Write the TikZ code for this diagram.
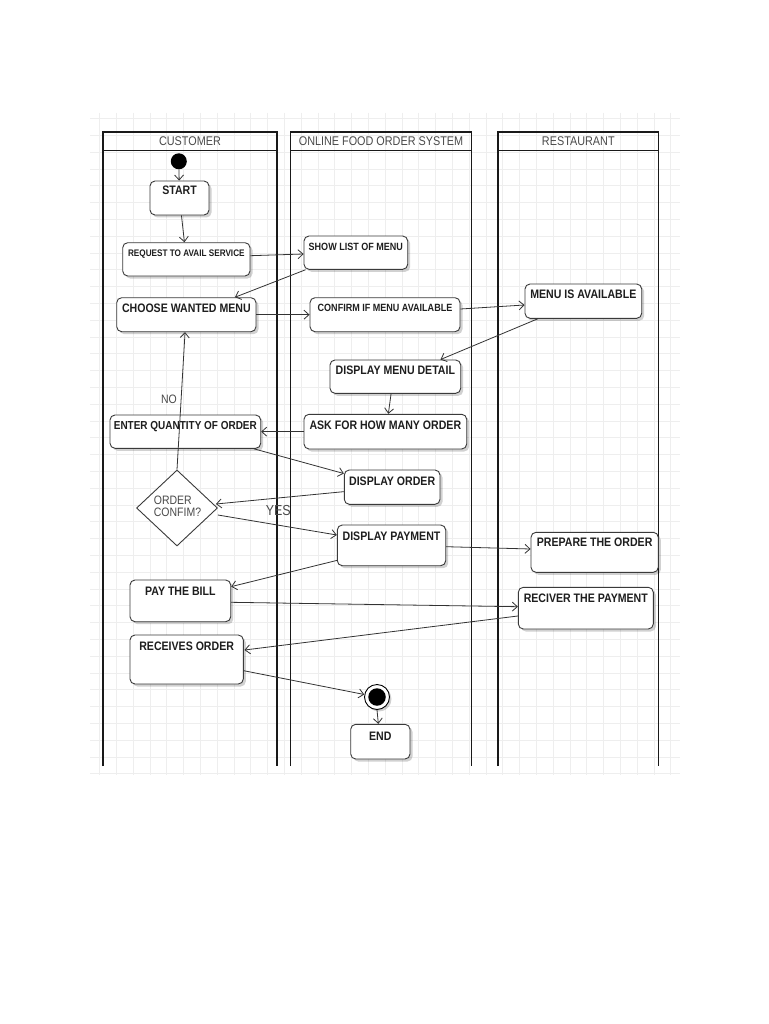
\documentclass[tikz,border=0pt]{standalone}
\usepackage{fontspec}
\setmainfont{Liberation Sans}
\newfontfamily\nfont[FakeStretch=0.86]{Liberation Sans}
\usetikzlibrary{arrows.meta,shapes.geometric,shadows,fit,calc}
\definecolor{boxline}{HTML}{3A3A3A}
\definecolor{txt}{HTML}{1E1E1E}
\definecolor{hdr}{HTML}{4A4A4A}
\definecolor{gridc}{HTML}{EEEEEE}
\tikzset{
 actbox/.style={draw=boxline, line width=0.9pt, rounded corners=5pt, fill=white, inner sep=0pt,
   drop shadow={shadow xshift=2.5pt, shadow yshift=-2.5pt, opacity=0.18, fill=black}},
 acttext/.style={font=\nfont\fontsize{12.3}{14}\selectfont\bfseries, text=txt, inner sep=0pt},
 midtext/.style={font=\nfont\fontsize{11.6}{13}\selectfont\bfseries, text=txt, inner sep=0pt},
 smalltext/.style={font=\nfont\fontsize{10.5}{12}\selectfont\bfseries, text=txt, inner sep=0pt},
 tinytext/.style={font=\nfont\fontsize{9.5}{11}\selectfont\bfseries, text=txt, inner sep=0pt},
 flow/.style={draw=black!80, line width=0.8pt, -{Straight Barb[length=5pt,width=9pt]}},
 lanehead/.style={font=\nfont\fontsize{12.6}{14}\selectfont, text=hdr, inner sep=0pt},
 laneline/.style={line width=1.8pt, draw=black!90, line join=miter},
 guard/.style={font=\nfont\fontsize{12.2}{11.7}\selectfont, text=hdr, inner sep=0pt},
}
\newcommand\actnode[8]{%
 \node[actbox, fit={(#2,#3)(#4,#5)}] (#1) {};
 \node[#7, anchor=base] (#1-t) at ({(#2+#4)/2},{#6+4.3}) {#8};
}
\begin{document}
\begin{tikzpicture}[x=1pt,y=-1pt]
\fill[white] (0,0) rectangle (768,1024);
\useasboundingbox (0,0) rectangle (768,1024);
% grid
\begin{scope}
\clip (90,113) rectangle (680,775);
\foreach \i in {0,...,34} \draw[gridc, line width=0.7pt] ({99.5+16.8*\i},113) -- ({99.5+16.8*\i},775);
\foreach \j in {0,...,39} \draw[gridc, line width=0.7pt] (90,{118.5+16.8*\j}) -- (680,{118.5+16.8*\j});
\end{scope}
% lanes
\node[fit={(103,132)(277,150.5)}, inner sep=0pt] (lane1) {};
\node[fit={(290.5,132)(471.5,150.5)}, inner sep=0pt] (lane2) {};
\node[fit={(498,132)(658.5,150.5)}, inner sep=0pt] (lane3) {};
\node[lanehead, anchor=base] (lane1-t) at (190,145.5) {CUSTOMER};
\node[lanehead, anchor=base] (lane2-t) at (381,145.5) {ONLINE FOOD ORDER SYSTEM};
\node[lanehead, anchor=base] (lane3-t) at (578.3,145.5) {RESTAURANT};
\draw[laneline] (103,766) -- (103,132) -- (277,132) -- (277,766);
\draw[laneline] (290.5,766) -- (290.5,132) -- (471.5,132) -- (471.5,766);
\draw[laneline] (498,766) -- (498,132) -- (658.5,132) -- (658.5,766);
\draw[line width=1.3pt, black!90] (lane1.south west) -- (lane1.south east);
\draw[line width=1.3pt, black!90] (lane2.south west) -- (lane2.south east);
\draw[line width=1.3pt, black!90] (lane3.south west) -- (lane3.south east);
% nodes
\node[circle, fill=black, minimum size=16pt, inner sep=0pt] (init) at (178.8,161.3) {};
\actnode{start}{150}{181}{209}{215}{190.5}{acttext}{START}
\actnode{request}{122.7}{242.7}{250}{276}{251.7}{tinytext}{REQUEST TO AVAIL SERVICE}
\actnode{show}{304}{236}{407.7}{269.3}{245.7}{smalltext}{SHOW LIST OF MENU}
\actnode{choose}{116.7}{297.7}{256}{331.7}{308.3}{acttext}{CHOOSE WANTED MENU}
\actnode{confirm}{310}{297.7}{460}{331.7}{307.3}{smalltext}{CONFIRM IF MENU AVAILABLE}
\actnode{avail}{525}{284}{641.7}{318.3}{294.3}{acttext}{MENU IS AVAILABLE}
\actnode{detail}{330}{360}{460.7}{393.3}{370}{acttext}{DISPLAY MENU DETAIL}
\actnode{ask}{304}{414.3}{466.7}{449}{425}{acttext}{ASK FOR HOW MANY ORDER}
\actnode{enter}{110}{415}{260.7}{448.3}{425}{midtext}{ENTER QUANTITY OF ORDER}
\actnode{dorder}{344.3}{470}{440}{504.3}{480.7}{acttext}{DISPLAY ORDER}
\actnode{dpay}{337.3}{525}{445.7}{565.7}{535.7}{acttext}{DISPLAY PAYMENT}
\actnode{prepare}{531}{532.3}{658.3}{572.3}{542.3}{acttext}{PREPARE THE ORDER}
\actnode{pay}{130}{580}{230.7}{621.7}{590.7}{acttext}{PAY THE BILL}
\actnode{reciver}{518.3}{587.3}{653.3}{629}{597.7}{acttext}{RECIVER THE PAYMENT}
\actnode{receives}{130}{635}{243.3}{684}{646}{acttext}{RECEIVES ORDER}
\actnode{endbox}{350.7}{724.3}{410}{759}{736}{acttext}{END}
\node[diamond, draw=boxline, line width=0.9pt, fill=white, minimum width=81pt, minimum height=76pt, inner sep=0pt] (decision) at (177,508) {};
\node[guard, align=left] (decision-t) at (177.5,506) {ORDER\\CONFIM?};
\node[circle, draw=black, line width=0.9pt, fill=white, minimum size=25pt, inner sep=0pt,
   drop shadow={shadow xshift=2pt, shadow yshift=-2pt, opacity=0.18, fill=black}] (final) at (377,697) {};
\node[circle, fill=black, minimum size=17.5pt, inner sep=0pt] (final-dot) at (final) {};
\node[guard] (nolabel) at (169,399.3) {NO};
\node[font=\nfont\fontsize{14.5}{16}\selectfont, text=hdr, inner sep=0pt] (yeslabel) at (278.3,511) {YES};
% connectors
\draw[flow] (init) -- (start);
\draw[flow] (start) -- (request);
\draw[flow] ([shift={(0,-3.65)}]request.east) -- ([shift={(0,1.35)}]show.west);
\draw[flow] ([shift={(2,0)}]show.south west) -- ([shift={(48.6,0)}]choose.north);
\draw[flow] (choose.east) -- (confirm.west);
\draw[flow] ([shift={(0,-5.7)}]confirm.east) -- ([shift={(0,3.85)}]avail.west);
\draw[flow] ([shift={(13.3,0)}]avail.south west) -- ([shift={(-20.7,0)}]detail.north east);
\draw[flow] ([shift={(-4.3,0)}]detail.south) -- ([shift={(3,0)}]ask.north);
\draw[flow] (ask.west) -- (enter.east);
\draw[flow] ([shift={(-7.4,0)}]enter.south east) -- ([shift={(0,4)}]dorder.north west);
\draw[flow] ([shift={(0,4.5)}]dorder.west) -- ([shift={(-2,-4)}]decision.east);
\draw[flow] (decision.north) -- ([shift={(-1.3,0)}]choose.south);
\draw[flow] ([shift={(0,7)}]decision.east) -- ([shift={(0,-10.35)}]dpay.west);
\draw[flow] ([shift={(0,1.35)}]dpay.east) -- ([shift={(0,-3.3)}]prepare.west);
\draw[flow] ([shift={(1,-6)}]dpay.south west) -- ([shift={(0,-14.2)}]pay.east);
\draw[flow] ([shift={(0,1.45)}]pay.east) -- ([shift={(0,-1.45)}]reciver.west);
\draw[flow] ([shift={(0,7.85)}]reciver.west) -- ([shift={(0.7,-9.5)}]receives.east);
\draw[flow] ([shift={(0,11.2)}]receives.east) -- (final);
\draw[flow] (final.south) -- ([shift={(-2,0)}]endbox.north);
\end{tikzpicture}
\end{document}
